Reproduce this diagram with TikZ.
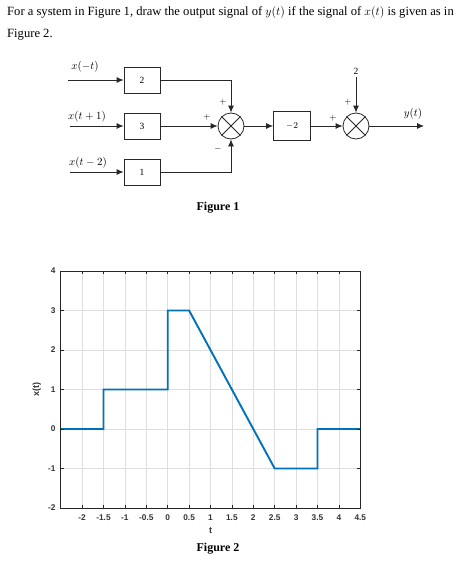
\documentclass[tikz,border=0pt]{standalone}
\usepackage{fontspec}
\setmainfont{Liberation Serif}
\newfontfamily\plotfont{Liberation Sans}
\usetikzlibrary{arrows.meta,positioning,calc}
\definecolor{matblue}{RGB}{0,114,189}
\definecolor{wirec}{RGB}{40,40,40}
\tikzset{
  blockbox/.style={
    draw=wirec,
    line width=0.8pt,
    minimum width=36pt,
    minimum height=26pt,
    inner sep=0pt,
    font=\fontsize{9.5}{10}\selectfont
  },
  sumnode/.style={draw=wirec, circle, line width=0.8pt, minimum size=26pt, inner sep=0pt},
  sig/.style={draw=wirec, line width=0.8pt, -{Latex[length=7pt,width=6pt]}},
  wire/.style={draw=wirec, line width=0.8pt},
  signlbl/.style={font=\fontsize{9.5}{10}\selectfont, inner sep=0pt},
  inlbl/.style={font=\fontsize{11}{12}\selectfont, inner sep=0pt},
  headtxt/.style={font=\fontsize{12.6}{15}\selectfont, inner sep=0pt, anchor=base west},
  figlbl/.style={font=\fontsize{12}{14}\bfseries\selectfont, inner sep=0pt},
  ticklbl/.style={font=\plotfont\fontsize{8.3}{9}\bfseries\selectfont, inner sep=0pt, text=black!80}
}

\begin{document}
\begin{tikzpicture}[x=1pt, y=-1pt]
\useasboundingbox (0,0) rectangle (463,565);

% question text
\node[headtxt] (head1) at (7,15) {For a system in Figure 1, draw the output signal of $y(t)$ if the signal of $x(t)$ is given as in};
\node[headtxt] (head2) at (7,37) {Figure 2.};

% Figure 1: block diagram
\node[blockbox] (g2) at (142,80) {2};
\node[blockbox] (g3) at (142,126) {3};
\node[blockbox] (g1) at (142,172) {1};
\node[sumnode] (sum1) at (231,126) {};
\node[blockbox, minimum width=37pt, minimum height=29pt] (gm2) at (292,126) {$-2$};
\node[sumnode] (sum2) at (356,126) {};
\node[signlbl] (c2) at (356,71) {2};
\coordinate (in2) at (68,80);
\coordinate (in3) at (70,126);
\coordinate (in1) at (70,172);
\coordinate (out) at (424,126);

\node[inlbl] (lx2) at (85,67) {$x(-t)$};
\node[inlbl] (lx3) at (87,117) {$x(t+1)$};
\node[inlbl] (lx1) at (88,163) {$x(t-2)$};
\node[inlbl] (ly) at (413,114) {$y(t)$};

\node[signlbl] (p1) at (223,102) {$+$};
\node[signlbl] (p2) at (207,117) {$+$};
\node[signlbl] (m1) at (218,149) {$-$};
\node[signlbl] (p3) at (348,102) {$+$};
\node[signlbl] (p4) at (333,118) {$+$};

\foreach \s in {sum1,sum2}
  \draw[wire] (\s.45) -- (\s.225) (\s.135) -- (\s.315);

\draw[sig] (in2) -- (g2);
\draw[sig] (in3) -- (g3);
\draw[sig] (in1) -- (g1);
\draw[sig] (g2) -| (sum1);
\draw[sig] (g3) -- (sum1);
\draw[sig] (g1) -| (sum1);
\draw[sig] (sum1) -- (gm2);
\draw[sig] (gm2) -- (sum2);
\draw[sig, shorten <=3pt] (c2) -- (sum2);
\draw[sig] (sum2) -- (out);

\node[figlbl] (fig1) at (218,208) {Figure 1};

% Figure 2: plot of x(t)
\begin{scope}[shift={(167.7,429)}, x=42.8pt, y=39.5pt]
  \foreach \t in {-2,-1.5,...,4}
    \draw[black!13, line width=0.6pt] (\t,-2) -- (\t,4);
  \foreach \v in {-1,0,...,3}
    \draw[black!13, line width=0.6pt] (-2.5,\v) -- (4.5,\v);
  \draw[matblue, line width=1.9pt, line join=miter]
    (-2.5,0) -- (-1.5,0) -- (-1.5,1) -- (0,1) -- (0,3) -- (0.5,3)
    -- (2.5,-1) -- (3.5,-1) -- (3.5,0) -- (4.5,0);
  \draw[black!85, line width=0.9pt] (-2.5,-2) rectangle (4.5,4);
  \foreach \t [count=\i] in {-2,-1.5,...,4.5} {
    \draw[black!85, line width=0.6pt] (\t,-2) -- ++(0,3pt) (\t,4) -- ++(0,-3pt);
    \node[ticklbl] (xt\i) at ($(\t,-2)+(0,-10pt)$) {\t};
  }
  \foreach \v [count=\i] in {-2,-1,...,4} {
    \draw[black!85, line width=0.6pt] (-2.5,\v) -- ++(3pt,0) (4.5,\v) -- ++(-3pt,0);
    \node[ticklbl, anchor=east] (yt\i) at ($(-2.5,\v)+(-5pt,0)$) {\v};
  }
  \node[ticklbl, font=\plotfont\fontsize{9}{10}\bfseries\selectfont] (tlbl) at ($(1,-2)+(0,-23pt)$) {t};
  \node[ticklbl, font=\plotfont\fontsize{9}{10}\bfseries\selectfont, rotate=90] (xlbl) at ($(-2.5,1)+(-24pt,0)$) {x(t)};
\end{scope}

\node[figlbl] (fig2) at (218,549) {Figure 2};
\end{tikzpicture}
\end{document}
